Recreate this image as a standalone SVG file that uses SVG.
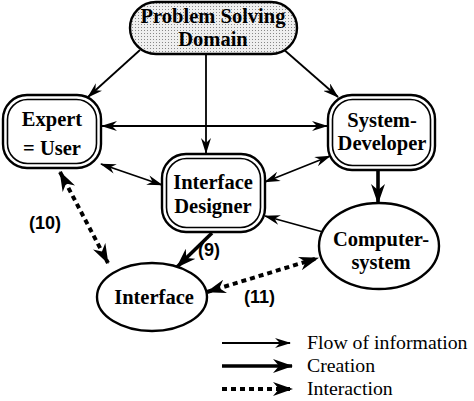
<svg xmlns="http://www.w3.org/2000/svg" width="474" height="401" viewBox="0 0 474 401">
<style>
.node{font-family:"Liberation Serif","Times New Roman",serif;font-weight:bold;font-size:20.5px;text-anchor:middle;fill:#000}
.lbl{font-family:"Liberation Sans",Arial,sans-serif;font-weight:bold;font-size:18px;fill:#000}
.leg{font-family:"Liberation Serif","Times New Roman",serif;font-size:19.8px;fill:#000}
.outer{fill:#fff;stroke:#000;stroke-width:2.4}
.inner{fill:none;stroke:#000;stroke-width:1.6}
.thin{fill:none;stroke:#000;stroke-width:1.8}
.thick{fill:none;stroke:#000;stroke-width:3.6}
.dash{fill:none;stroke:#000;stroke-width:4;stroke-dasharray:5 4}
</style>
<defs>
<pattern id="dots" width="3" height="3" patternUnits="userSpaceOnUse">
<rect width="3" height="3" fill="#efefef"/>
<rect width="1" height="1" fill="#888"/>
</pattern>
<marker id="ah" viewBox="0 0 16 10" refX="15" refY="5" markerWidth="16" markerHeight="10" orient="auto-start-reverse" markerUnits="userSpaceOnUse">
<path d="M0,0 L16,5 L0,10 L5,5 z" fill="#000"/>
</marker>
<marker id="ahk" viewBox="0 0 20 14" refX="19" refY="7" markerWidth="20" markerHeight="14" orient="auto-start-reverse" markerUnits="userSpaceOnUse">
<path d="M0,0 L20,7 L0,14 L6,7 z" fill="#000"/>
</marker>
</defs>

<g id="connectors">
<line class="thin" x1="140" y1="50" x2="88" y2="97" marker-end="url(#ah)"/>
<line class="thin" x1="282" y1="48" x2="338" y2="97" marker-end="url(#ah)"/>
<line class="thin" x1="206" y1="53" x2="206" y2="153" marker-end="url(#ah)"/>
<line class="thin" x1="102" y1="126" x2="327" y2="126" marker-start="url(#ah)" marker-end="url(#ah)"/>
<line class="thin" x1="101" y1="164" x2="162" y2="185" marker-start="url(#ah)" marker-end="url(#ah)"/>
<line class="thin" x1="330" y1="156" x2="265" y2="182" marker-start="url(#ah)" marker-end="url(#ah)"/>
<line class="thin" x1="323" y1="232" x2="265" y2="216" marker-end="url(#ah)"/>
<line class="thick" x1="378" y1="170" x2="378" y2="203" marker-end="url(#ahk)"/>
<line class="thick" x1="212" y1="233" x2="177" y2="267" marker-end="url(#ahk)"/>
<line class="dash" x1="60" y1="172" x2="108" y2="263" marker-start="url(#ahk)" marker-end="url(#ahk)"/>
<line class="dash" x1="207" y1="292" x2="318" y2="258" marker-start="url(#ahk)" marker-end="url(#ahk)"/>
<text class="lbl" x="198" y="256">(9)</text>
<text class="lbl" x="29" y="229">(10)</text>
<text class="lbl" x="244" y="303">(11)</text>
</g>

<g id="psd">
<rect x="130" y="2" width="167" height="52" rx="26" fill="url(#dots)" stroke="#000" stroke-width="2.4"/>
<text class="node" x="213" y="23">Problem Solving</text>
<text class="node" x="213" y="46">Domain</text>
</g>

<g id="expert">
<rect class="outer" x="3" y="95" width="98" height="73" rx="24"/>
<rect class="inner" x="7.5" y="99.5" width="89" height="64" rx="20"/>
<text class="node" x="52" y="126">Expert</text>
<text class="node" x="52" y="155">= User</text>
</g>

<g id="sysdev">
<rect class="outer" x="328" y="95" width="107" height="75" rx="24"/>
<rect class="inner" x="332.5" y="99.5" width="98" height="66" rx="20"/>
<text class="node" x="382" y="127">System-</text>
<text class="node" x="382" y="150">Developer</text>
</g>

<g id="idesigner">
<rect class="outer" x="162" y="154" width="103" height="78" rx="24"/>
<rect class="inner" x="166.5" y="158.5" width="94" height="69" rx="20"/>
<text class="node" x="213" y="189">Interface</text>
<text class="node" x="213" y="213">Designer</text>
</g>

<g id="computer">
<ellipse class="outer" cx="379" cy="246" rx="60" ry="43"/>
<text class="node" x="381" y="246">Computer-</text>
<text class="node" x="381" y="269">system</text>
</g>

<g id="interface">
<ellipse class="outer" cx="152" cy="297" rx="55" ry="34"/>
<text class="node" x="154" y="304">Interface</text>
</g>

<g id="legend">
<line class="thin" x1="222" y1="343" x2="290" y2="343" marker-end="url(#ah)"/>
<line class="thick" x1="222" y1="366" x2="292" y2="366" marker-end="url(#ahk)"/>
<line class="dash" x1="222" y1="389" x2="292" y2="389" marker-end="url(#ahk)"/>
<text class="leg" x="307" y="349">Flow of information</text>
<text class="leg" x="307" y="372">Creation</text>
<text class="leg" x="307" y="395">Interaction</text>
</g>
</svg>
